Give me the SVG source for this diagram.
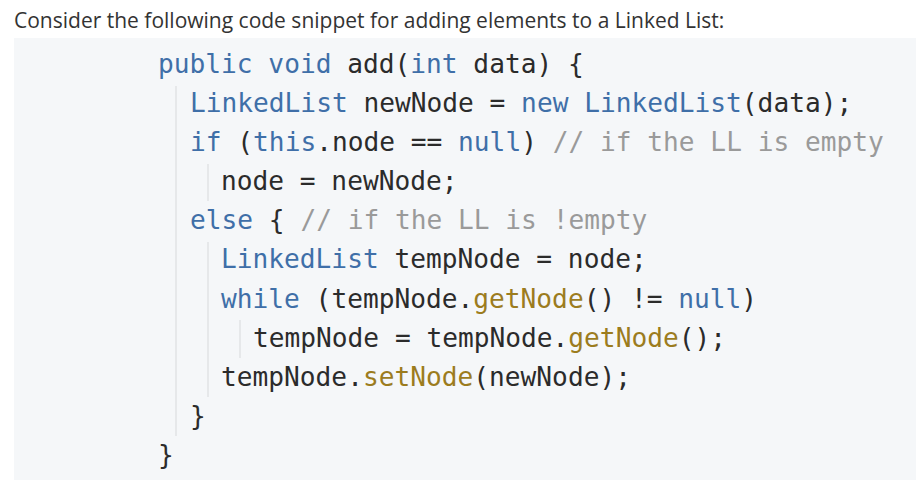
<svg xmlns="http://www.w3.org/2000/svg" width="916" height="484" viewBox="0 0 916 484">
<style>
.t{font-family:"Open Sans",sans-serif;font-size:21px;fill:#333}
.c{font-family:"DejaVu Sans Mono",monospace;font-size:26.2px;fill:#2b2b2b;white-space:pre}
.k{fill:#3f6fa8}.m{fill:#9c7c1e}.g{fill:#9a9a9a}
.gd{stroke:#e6e8ea;stroke-width:2}
</style>
<rect width="916" height="484" fill="#fff"/>
<text class="t" x="14" y="28">Consider the following code snippet for adding elements to a Linked List:</text>
<rect x="14" y="38" width="902" height="442" fill="#f5f7f9"/>
<line class="gd" x1="176" y1="86" x2="176" y2="436"/>
<line class="gd" x1="208" y1="164" x2="208" y2="201"/>
<line class="gd" x1="208" y1="242" x2="208" y2="397"/>
<line class="gd" x1="240" y1="320" x2="240" y2="358"/>
<text class="c" x="158" y="73"><tspan class="k">public void</tspan> add(<tspan class="k">int</tspan> data) {</text>
<text class="c" x="190" y="112"><tspan class="k">LinkedList</tspan> newNode = <tspan class="k">new LinkedList</tspan>(data);</text>
<text class="c" x="190" y="151"><tspan class="k">if</tspan> (<tspan class="k">this</tspan>.node == <tspan class="k">null</tspan>) <tspan class="g">// if the LL is empty</tspan></text>
<text class="c" x="221" y="190">node = newNode;</text>
<text class="c" x="190" y="229"><tspan class="k">else</tspan> { <tspan class="g">// if the LL is !empty</tspan></text>
<text class="c" x="221" y="268"><tspan class="k">LinkedList</tspan> tempNode = node;</text>
<text class="c" x="221" y="308"><tspan class="k">while</tspan> (tempNode.<tspan class="m">getNode</tspan>() != <tspan class="k">null</tspan>)</text>
<text class="c" x="253" y="347">tempNode = tempNode.<tspan class="m">getNode</tspan>();</text>
<text class="c" x="221" y="386">tempNode.<tspan class="m">setNode</tspan>(newNode);</text>
<text class="c" x="190" y="425">}</text>
<text class="c" x="158" y="464">}</text>
</svg>
